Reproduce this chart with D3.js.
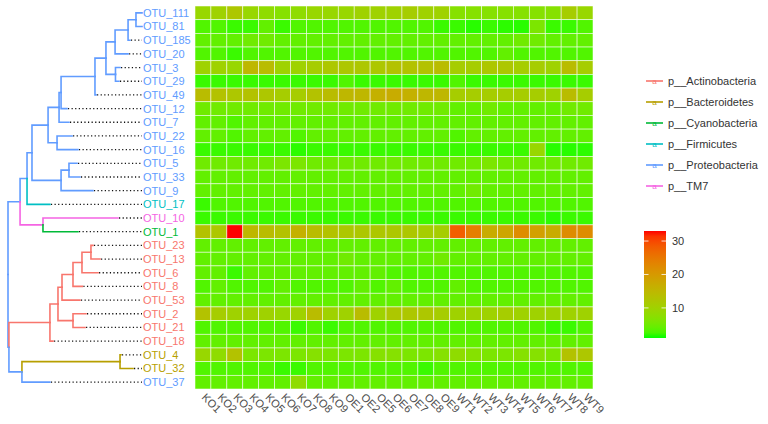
<!DOCTYPE html>
<html>
<head>
<meta charset="utf-8">
<script src="https://cdn.jsdelivr.net/npm/d3@7"></script>
<style>
  body { margin: 0; background: #fff; }
  text { font-family: Arial, "Liberation Sans", sans-serif; }
</style>
</head>
<body>
<div id="chart"></div>
<script>
(function() {
    var width = 768,
        height = 424;

    // columns of the heatmap
    var samples = ["KO1", "KO2", "KO3", "KO4", "KO5", "KO6", "KO7", "KO8", "KO9",
        "OE1", "OE2", "OE5", "OE6", "OE7", "OE8", "OE9",
        "WT1", "WT2", "WT3", "WT4", "WT5", "WT6", "WT7", "WT8", "WT9"];

    // rows, top to bottom (same order as the tree tips)
    var otus = ["OTU_111", "OTU_81", "OTU_185", "OTU_20", "OTU_3", "OTU_29", "OTU_49",
        "OTU_12", "OTU_7", "OTU_22", "OTU_16", "OTU_5", "OTU_33", "OTU_9", "OTU_17",
        "OTU_10", "OTU_1", "OTU_23", "OTU_13", "OTU_6", "OTU_8", "OTU_53", "OTU_2",
        "OTU_21", "OTU_18", "OTU_4", "OTU_32", "OTU_37"];

    var otuPhylum = ["p__Proteobacteria", "p__Proteobacteria", "p__Proteobacteria", "p__Proteobacteria",
        "p__Proteobacteria", "p__Proteobacteria", "p__Proteobacteria", "p__Proteobacteria",
        "p__Proteobacteria", "p__Proteobacteria", "p__Proteobacteria", "p__Proteobacteria",
        "p__Proteobacteria", "p__Proteobacteria", "p__Firmicutes", "p__TM7", "p__Cyanobacteria",
        "p__Actinobacteria", "p__Actinobacteria", "p__Actinobacteria", "p__Actinobacteria",
        "p__Actinobacteria", "p__Actinobacteria", "p__Actinobacteria", "p__Actinobacteria",
        "p__Bacteroidetes", "p__Bacteroidetes", "p__Proteobacteria"];

    var phyla = ["p__Actinobacteria", "p__Bacteroidetes", "p__Cyanobacteria",
        "p__Firmicutes", "p__Proteobacteria", "p__TM7"];

    // tree, one entry per node in pre-order: id, parent, branch length
    var treeNode = ["root", "n1", "n2", "n3", "n4", "n5", "n6", "n7", "n8", "n9", "n10", "n11",
        "OTU_111", "OTU_81", "OTU_185", "OTU_20", "n12", "OTU_3", "OTU_29", "OTU_49", "OTU_12",
        "OTU_7", "n13", "OTU_22", "OTU_16", "n14", "n15", "OTU_5", "OTU_33", "OTU_9", "OTU_17",
        "n16", "OTU_10", "OTU_1", "n17", "n18", "n19", "n20", "n21", "n22", "n23", "OTU_23",
        "OTU_13", "OTU_6", "OTU_8", "OTU_53", "n24", "OTU_2", "OTU_21", "OTU_18", "n25", "n26",
        "OTU_4", "OTU_32", "OTU_37"];
    var treeParent = [null, "root", "n1", "n2", "n3", "n4", "n5", "n6", "n7", "n8", "n9", "n10",
        "n11", "n11", "n10", "n9", "n8", "n12", "n12", "n7", "n6",
        "n5", "n4", "n13", "n13", "n3", "n14", "n15", "n15", "n14", "n2",
        "n1", "n16", "n16", "root", "n17", "n18", "n19", "n20", "n21", "n22", "n23",
        "n23", "n22", "n21", "n20", "n19", "n24", "n24", "n18", "n17", "n25",
        "n26", "n26", "n25"];
    var treeLength = [0, 0.090, 0.052, 0.037, 0.120, 0.082, 0.015, 0.253, 0.082, 0.068, 0.097, 0.059,
        0.045, 0.045, 0.014, 0.097, 0.071, 0.034, 0.026, 0.008, 0.044,
        0.074, 0.067, 0.112, 0.156, 0.217, 0.059, 0.060, 0.082, 0.238, 0.171,
        0.171, 0.560, 0.261, 0.007, 0.306, 0.060, 0.030, 0.082, 0.067, 0.067, 0.015,
        0.068, 0.120, 0.070, 0.134, 0.112, 0.097, 0.090, 0.023, 0.097, 0.732,
        0.007, 0.097, 0.209];

    // abundance, one array per OTU row, one value per sample
    var abundance = [
        [9, 10, 12, 9, 8, 7, 8, 9, 9, 9, 10, 10, 10, 11, 10, 10, 7, 7, 7, 7, 7, 7, 7, 11, 9],
        [3, 3, 2, 2, 4, 2, 3, 3, 3, 3, 3, 3, 3, 3, 3, 2, 2, 1.5, 2, 1.6, 1.5, 6, 2, 2, 3],
        [4, 4, 4, 5, 5, 4, 4, 4, 4, 4, 4, 4, 4, 4, 4, 4, 4, 4, 4, 4, 5, 5, 4, 4, 4],
        [3, 3, 2, 3, 3, 3, 3, 3, 3, 3, 3, 3, 3, 3, 3, 3, 3, 3, 3, 4, 3, 3, 3, 3, 3],
        [10, 10, 9, 15, 14, 10, 10, 11, 12, 12, 12, 12, 13, 13, 13, 14, 11, 11, 12, 12, 11, 11, 10, 14, 11],
        [2, 2, 2, 2, 2, 2, 2, 2, 2, 3, 2, 2, 2, 2, 2, 2, 3, 2, 2, 2, 2, 2, 2, 2, 2],
        [14, 13, 12, 13, 12, 11, 11, 13, 14, 15, 15, 16, 17, 16, 15, 15, 11, 11, 11, 11, 11, 11, 10, 14, 11],
        [5, 5, 5, 5, 5, 5, 5, 5, 5, 5, 5, 5, 5, 5, 5, 5, 4, 4, 5, 4, 4, 4, 4, 5, 5],
        [4, 4, 3, 4, 4, 4, 4, 4, 4, 4, 4, 4, 4, 4, 4, 4, 4, 4, 4, 4, 4, 4, 4, 4, 4],
        [4, 4, 3, 4, 4, 4, 3, 4, 4, 4, 4, 4, 4, 4, 4, 4, 3, 4, 4, 4, 4, 4, 4, 4, 4],
        [2, 2, 2, 2, 2, 2, 1.6, 2, 2, 2, 2, 2, 2, 2, 2, 2, 2, 2, 2, 2, 2, 9, 1.5, 1.5, 1.6],
        [5, 5, 5, 5, 5, 6, 6, 5, 5, 5, 5, 5, 5, 5, 5, 5, 5, 5, 6, 5, 5, 5, 5, 5, 5],
        [4, 4, 4, 4, 4, 4, 4, 4, 4, 4, 4, 4, 4, 4, 4, 4, 4, 4, 4, 4, 4, 4, 4, 4, 4],
        [4, 4, 4, 4, 4, 4, 4, 4, 4, 4, 4, 4, 4, 4, 4, 4, 4, 5, 4, 4, 4, 4, 4, 4, 4],
        [2, 3, 3, 3, 3, 3, 3, 3, 3, 3, 3, 3, 3, 3, 3, 3, 3, 3, 3, 3, 3, 3, 3, 3, 3],
        [2, 2, 2, 2, 2, 2, 2, 2, 2, 2, 2, 2, 2, 2, 2, 2, 2, 2, 2, 2, 2, 2, 1.6, 2, 2],
        [13, 12, 33, 15, 14, 13, 16, 14, 13, 12, 12, 12, 12, 12, 11, 11, 28, 24, 17, 18, 22, 19, 17, 22, 22],
        [4, 4, 4, 4, 4, 4, 4, 4, 4, 4, 4, 4, 4, 4, 4, 4, 4, 4, 4, 4, 4, 4, 4, 4, 4],
        [4, 4, 4, 4, 4, 4, 4, 4, 4, 5, 4, 4, 4, 4, 4, 5, 4, 4, 4, 4, 4, 4, 4, 4, 4],
        [4, 4, 2, 4, 4, 4, 4, 4, 4, 4, 4, 4, 3, 3, 3, 3, 3, 3, 3, 3, 3, 3, 3, 3, 3],
        [3, 4, 3, 3, 3, 4, 3, 3, 3, 3, 4, 3, 4, 3, 3, 3, 4, 3, 3, 3, 3, 3, 3, 3, 3],
        [4, 4, 4, 4, 4, 4, 4, 4, 4, 4, 4, 4, 4, 4, 4, 4, 4, 4, 4, 4, 4, 4, 4, 4, 4],
        [13, 11, 10, 10, 10, 9, 10, 14, 10, 10, 14, 10, 12, 12, 12, 11, 10, 10, 10, 11, 10, 10, 10, 10, 10],
        [3, 3, 3, 3, 3, 3, 2, 3, 2, 3, 3, 3, 3, 3, 3, 3, 3, 3, 3, 3, 3, 3, 2, 2, 3],
        [4, 4, 4, 4, 4, 4, 4, 4, 4, 4, 4, 4, 4, 4, 4, 4, 4, 4, 4, 4, 4, 4, 4, 4, 4],
        [9, 8, 13, 6, 6, 6, 6, 7, 6, 6, 6, 7, 7, 6, 6, 7, 8, 7, 6, 6, 7, 7, 6, 13, 12],
        [3, 3, 3, 3, 3, 2, 2, 3, 3, 3, 3, 3, 3, 3, 2, 3, 3, 3, 3, 3, 3, 3, 3, 3, 3],
        [4, 4, 4, 4, 4, 4, 8, 4, 4, 4, 4, 4, 4, 4, 4, 4, 4, 4, 4, 4, 4, 4, 4, 4, 4]
    ];

    var colorTicks = [10, 20, 30];
    var colorDomain = [1, 33];

    var svg = d3.select("#chart")
        .append("svg")
        .attr("width", width)
        .attr("height", height);

    svg.append("rect")
        .attr("width", width)
        .attr("height", height)
        .attr("fill", "white");

    var phylumColor = d3.scaleOrdinal()
        .domain(phyla)
        .range(["#F8766D", "#B79F00", "#00BA38", "#00BFC4", "#619CFF", "#F564E3"]);

    var phylumOf = {};
    otus.forEach(function(o, i) { phylumOf[o] = otuPhylum[i]; });

    var xScale = d3.scaleBand().domain(samples).range([195, 593]);
    var yScale = d3.scaleBand().domain(otus).range([6, 389]);

    var vMin = colorDomain[0],
        vMax = colorDomain[1];
    var color = d3.scaleSequential(d3.interpolateLab("#00ff00", "#ff0000"))
        .domain([vMin, vMax]);

    // ---- tree ----
    var rows = treeNode.map(function(id, i) {
        return {id: id, parent: treeParent[i], len: treeLength[i]};
    });
    var root = d3.stratify()
        .id(function(d) { return d.id; })
        .parentId(function(d) { return d.parent; })(rows);

    root.eachBefore(function(n) {
        n.dist = n.parent ? n.parent.dist + n.data.len : 0;
    });
    root.eachAfter(function(n) {
        n.yy = n.children ? d3.mean(n.children, function(c) { return c.yy; })
                          : yScale(n.id) + yScale.bandwidth() / 2;
        var groups = Array.from(new Set(n.leaves().map(function(l) { return phylumOf[l.id]; })));
        if (groups.length == 1) {
            n.group = groups[0];
        } else if (groups.indexOf("p__Proteobacteria") >= 0) {
            n.group = "p__Proteobacteria";
        } else {
            n.group = phylumOf[n.leaves()[0].id];
        }
    });

    var treeX = d3.scaleLinear()
        .domain([0, d3.max(root.leaves(), function(l) { return l.dist; })])
        .range([8, 142]);

    var labelX = 143;

    // dotted connectors from tips to labels
    svg.append("g")
        .selectAll("line")
        .data(root.leaves().filter(function(l) { return treeX(l.dist) < labelX - 2; }))
        .enter().append("line")
        .attr("x1", function(d) { return treeX(d.dist) + 1; })
        .attr("x2", labelX - 1)
        .attr("y1", function(d) { return d.yy; })
        .attr("y2", function(d) { return d.yy; })
        .attr("stroke", "#111")
        .attr("stroke-width", 1.3)
        .attr("stroke-dasharray", "1.2,2.4");

    svg.append("g")
        .selectAll("path")
        .data(root.descendants().filter(function(n) { return n.parent; }))
        .enter().append("path")
        .attr("d", function(n) {
            return "M" + treeX(n.parent.dist) + "," + n.parent.yy +
                "V" + n.yy + "H" + treeX(n.dist);
        })
        .attr("fill", "none")
        .attr("stroke", function(n) { return phylumColor(n.group); })
        .attr("stroke-width", 1.6)
        .attr("stroke-linecap", "square");

    svg.append("g")
        .selectAll("text")
        .data(root.leaves())
        .enter().append("text")
        .attr("x", labelX)
        .attr("y", function(d) { return d.yy; })
        .attr("dy", "0.36em")
        .attr("font-size", 11)
        .attr("fill", function(d) { return phylumColor(phylumOf[d.id]); })
        .text(function(d) { return d.id; });

    // ---- heatmap ----
    var cells = [];
    abundance.forEach(function(row, i) {
        row.forEach(function(v, j) {
            cells.push({otu: otus[i], sample: samples[j], value: v});
        });
    });

    svg.append("g")
        .selectAll("rect")
        .data(cells)
        .enter().append("rect")
        .attr("x", function(d) { return xScale(d.sample); })
        .attr("y", function(d) { return yScale(d.otu); })
        .attr("width", xScale.bandwidth())
        .attr("height", yScale.bandwidth())
        .attr("fill", function(d) { return color(d.value); })
        .attr("stroke", "white")
        .attr("stroke-opacity", 0.75)
        .attr("stroke-width", 0.7);

    svg.append("g")
        .selectAll("text")
        .data(samples)
        .enter().append("text")
        .attr("transform", function(d) {
            return "translate(" + (xScale(d) + xScale.bandwidth() / 2 - 2) + ",398) rotate(45)";
        })
        .attr("font-size", 11)
        .attr("fill", "#4d4d4d")
        .text(function(d) { return d; });

    // ---- phylum legend ----
    var legend = svg.append("g")
        .selectAll("g")
        .data(phyla)
        .enter().append("g")
        .attr("transform", function(d, i) { return "translate(0," + (81 + i * 21) + ")"; });

    legend.append("line")
        .attr("x1", 646)
        .attr("x2", 663)
        .attr("stroke", function(d) { return phylumColor(d); })
        .attr("stroke-width", 1.6);

    legend.append("text")
        .attr("x", 654.5)
        .attr("y", 2.5)
        .attr("text-anchor", "middle")
        .attr("font-size", 8)
        .attr("fill", function(d) { return phylumColor(d); })
        .text("a");

    legend.append("text")
        .attr("x", 668)
        .attr("dy", "0.36em")
        .attr("font-size", 11)
        .attr("fill", "#333")
        .text(function(d) { return d; });

    // ---- colour bar ----
    var barY = d3.scaleLinear().domain([vMin, vMax]).range([338, 231]);

    var grad = svg.append("defs")
        .append("linearGradient")
        .attr("id", "bar")
        .attr("x1", 0).attr("y1", 1)
        .attr("x2", 0).attr("y2", 0);
    grad.selectAll("stop")
        .data(d3.range(0, 1.001, 0.05))
        .enter().append("stop")
        .attr("offset", function(t) { return t; })
        .attr("stop-color", function(t) { return color(vMin + t * (vMax - vMin)); });

    svg.append("rect")
        .attr("x", 644)
        .attr("y", barY(vMax))
        .attr("width", 22)
        .attr("height", barY(vMin) - barY(vMax))
        .attr("fill", "url(#bar)");

    var barTicks = svg.append("g")
        .selectAll("g")
        .data(colorTicks)
        .enter().append("g")
        .attr("transform", function(d) { return "translate(0," + barY(d) + ")"; });

    barTicks.append("line")
        .attr("x1", 644).attr("x2", 648.5)
        .attr("stroke", "white").attr("stroke-width", 0.8);
    barTicks.append("line")
        .attr("x1", 661.5).attr("x2", 666)
        .attr("stroke", "white").attr("stroke-width", 0.8);
    barTicks.append("text")
        .attr("x", 672)
        .attr("dy", "0.36em")
        .attr("font-size", 11)
        .attr("fill", "#333")
        .text(function(d) { return d; });
})();
</script>
</body>
</html>
